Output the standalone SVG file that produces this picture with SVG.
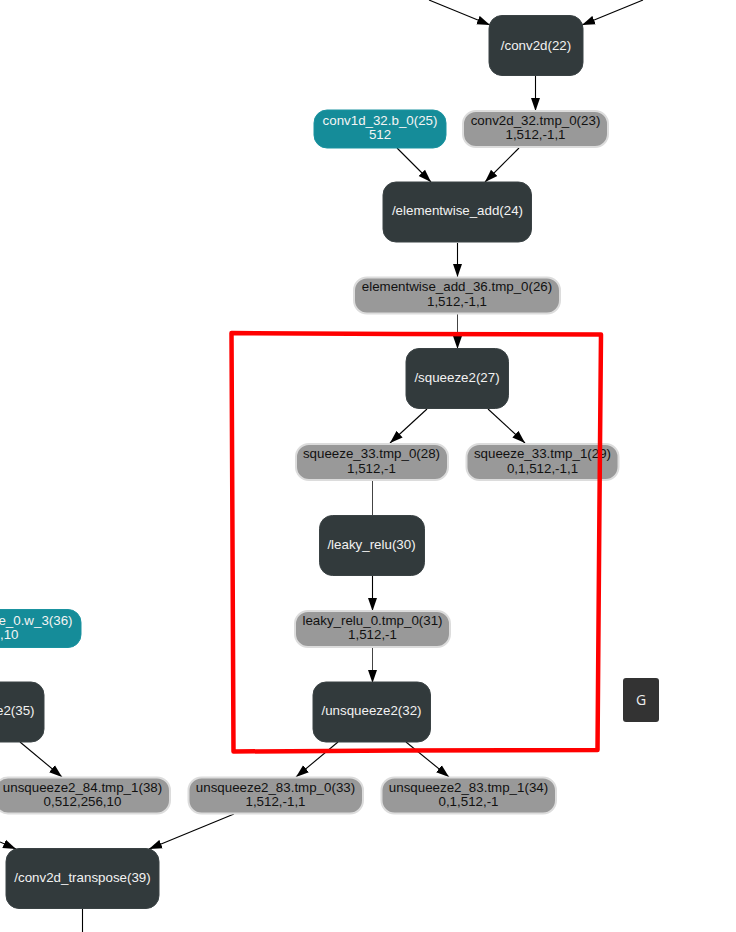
<svg xmlns="http://www.w3.org/2000/svg" width="736" height="932" viewBox="0 0 736 932">
<style>
text{font-family:"Liberation Sans",Arial,sans-serif;font-size:13.33px;text-anchor:middle}
.op rect{fill:#323a3c;stroke:#3a4244;stroke-width:1}
.op text{fill:#f2f2f2}
.par rect{fill:#158c99;stroke:#1a93a0;stroke-width:1}
.par text{fill:#f4f4f4}
.var rect{fill:#999999;stroke:#dcdcdc;stroke-width:2}
.var text{fill:#111111}
text.e{text-anchor:end}
#connectors line{stroke:#000;stroke-width:1.1;marker-end:url(#a)}
#connectors line.n{marker-end:none}
#connectors line.t{stroke:#444;stroke-width:1}
</style>
<defs><marker id="a" markerUnits="userSpaceOnUse" markerWidth="14" markerHeight="10" refX="13" refY="5" orient="auto"><path d="M0 0.5L13 5L0 9.5z" fill="#000"/></marker></defs>
<rect width="736" height="932" fill="#fff"/>
<g id="connectors">
<line x1="429" y1="0" x2="490" y2="25"/>
<line x1="643" y1="0" x2="582" y2="25"/>
<line x1="535.500" y1="76" x2="535.500" y2="111"/>
<line x1="397" y1="148" x2="431" y2="182"/>
<line x1="519" y1="148" x2="485" y2="182"/>
<line x1="457.500" y1="243" x2="457.500" y2="277"/>
<line class="t" x1="457.500" y1="314" x2="457.500" y2="349"/>
<line x1="427" y1="409" x2="390" y2="443"/>
<line x1="488" y1="409" x2="525" y2="443"/>
<line class="n t" x1="372.500" y1="481" x2="372.500" y2="515"/>
<line x1="372.500" y1="576" x2="372.500" y2="611"/>
<line class="t" x1="372.500" y1="647" x2="372.500" y2="683"/>
<line x1="338" y1="742" x2="296" y2="777"/>
<line x1="406" y1="742" x2="449" y2="777"/>
<line x1="20" y1="742" x2="62" y2="777"/>
<line x1="234" y1="814" x2="149" y2="849"/>
<line x1="0" y1="842" x2="16" y2="849"/>
<line class="n" x1="82.500" y1="909" x2="82.500" y2="932"/>
</g>
<g id="conv2d22" class="op"><rect x="489" y="15.500" width="94" height="60" rx="13"/><text x="536" y="50">/conv2d(22)</text></g>
<g id="conv1d_b" class="par"><rect x="314" y="110" width="132" height="38" rx="13"/><text x="380" y="125">conv1d_32.b_0(25)</text><text x="380" y="139">512</text></g>
<g id="conv2d_tmp" class="var"><rect x="463" y="111" width="145" height="36" rx="13"/><text x="535.500" y="125">conv2d_32.tmp_0(23)</text><text x="535.500" y="139">1,512,-1,1</text></g>
<g id="add24" class="op"><rect x="383" y="182" width="148.500" height="60" rx="13"/><text x="457.500" y="215">/elementwise_add(24)</text></g>
<g id="add_tmp" class="var"><rect x="354" y="277.500" width="206" height="36" rx="13"/><text x="457" y="291">elementwise_add_36.tmp_0(26)</text><text x="457" y="306">1,512,-1,1</text></g>
<g id="squeeze27" class="op"><rect x="406" y="348.500" width="102.500" height="60" rx="13"/><text x="457" y="382">/squeeze2(27)</text></g>
<g id="sq_tmp0" class="var"><rect x="296" y="444" width="152" height="36" rx="13"/><text x="371.500" y="458">squeeze_33.tmp_0(28)</text><text x="371.500" y="473">1,512,-1</text></g>
<g id="sq_tmp1" class="var"><rect x="466.500" y="444" width="152" height="36" rx="13"/><text x="542.500" y="458">squeeze_33.tmp_1(29)</text><text x="542.500" y="473">0,1,512,-1,1</text></g>
<g id="leaky30" class="op"><rect x="319.500" y="515.500" width="105" height="60" rx="13"/><text x="371.500" y="549">/leaky_relu(30)</text></g>
<g id="leaky_tmp" class="var"><rect x="295" y="611" width="155" height="36" rx="13"/><text x="372.500" y="625">leaky_relu_0.tmp_0(31)</text><text x="372.500" y="639">1,512,-1</text></g>
<g id="unsq32" class="op"><rect x="313" y="682" width="117.500" height="60" rx="13"/><text x="371.500" y="715">/unsqueeze2(32)</text></g>
<g id="w36" class="par"><rect x="-60" y="609.500" width="141" height="38" rx="13"/><text class="e" x="72.500" y="625">e_0.w_3(36)</text><text class="e" x="18.500" y="639">,10</text></g>
<g id="unsq35" class="op"><rect x="-60" y="682" width="104" height="60" rx="13"/><text class="e" x="34.500" y="715">e2(35)</text></g>
<g id="u84_tmp1" class="var"><rect x="-5" y="777.500" width="175" height="36" rx="13"/><text x="82.500" y="792">unsqueeze2_84.tmp_1(38)</text><text x="82.500" y="806">0,512,256,10</text></g>
<g id="u83_tmp0" class="var"><rect x="188.500" y="777.500" width="174.500" height="36" rx="13"/><text x="275.500" y="792">unsqueeze2_83.tmp_0(33)</text><text x="275.500" y="806">1,512,-1,1</text></g>
<g id="u83_tmp1" class="var"><rect x="381.500" y="777.500" width="174.500" height="36" rx="13"/><text x="468.500" y="792">unsqueeze2_83.tmp_1(34)</text><text x="468.500" y="806">0,1,512,-1</text></g>
<g id="transpose39" class="op"><rect x="6" y="848.500" width="153" height="60" rx="13"/><text x="82.500" y="882">/conv2d_transpose(39)</text></g>
<path id="highlight" d="M231.500 333L400 334L601 334.500L599.500 500L597.500 750L400 750.500L233.500 751.500Z" fill="none" stroke="#ff0000" stroke-width="4.500" stroke-linejoin="round"/>
<g id="g-button"><rect x="623" y="678" width="36" height="44" rx="3" fill="#333333"/><text x="641" y="705" style="font-family:'Open Sans',sans-serif;font-size:14px;fill:#eeeeee">G</text></g>
</svg>
